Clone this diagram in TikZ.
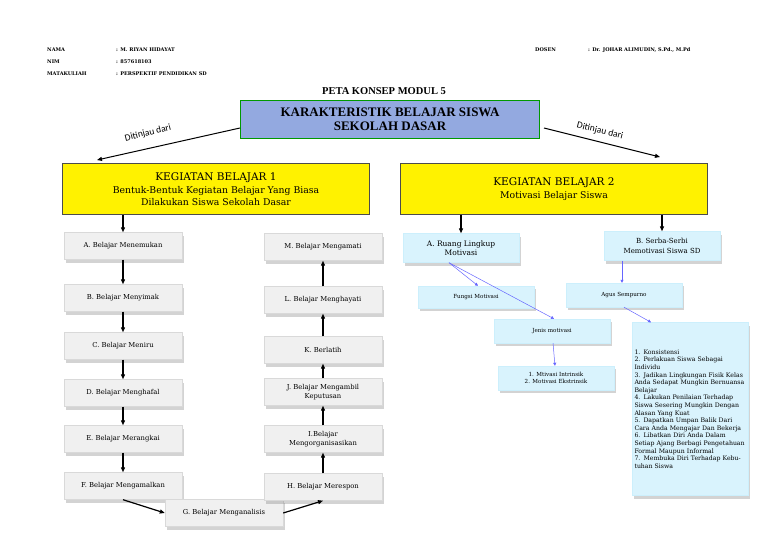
\documentclass[tikz,border=0pt]{standalone}
\usepackage{fontspec}
\setmainfont{DejaVu Serif}
\newfontfamily\calfnt{Carlito}
\newfontfamily\tfnt{Liberation Serif}
\usetikzlibrary{shadows,arrows.meta}
\definecolor{tblue}{HTML}{93A9E0}
\begin{document}
\begin{tikzpicture}[x=1pt,y=-1pt,
 hdr/.style={anchor=west,font=\fontsize{5}{6}\selectfont\bfseries,inner sep=0},
 gbox/.style={draw=gray!30,fill=gray!12,minimum width=118,minimum height=27,align=center,font=\fontsize{6.8}{8.5}\selectfont,drop shadow={opacity=0.35,shadow xshift=2pt,shadow yshift=-3pt}},
 cbox/.style={draw=cyan!20,fill=cyan!15,minimum width=116,align=center,font=\fontsize{5.6}{7}\selectfont,drop shadow={opacity=0.35,shadow xshift=2pt,shadow yshift=-3pt}},
 ybox/.style={draw=black!70,fill=yellow,minimum width=307,minimum height=51,align=center},
 blk/.style={-{Triangle[length=5pt,width=4pt]},line width=1.2pt},
 blu/.style={-{Triangle[length=3pt,width=3pt]},draw=blue!60,line width=0.5pt}]
\useasboundingbox (0,0) rectangle (768,543);
\node[hdr] (n1) at (47,50) {NAMA};
\node[hdr] (n2) at (116,50) {: M. RIYAN HIDAYAT};
\node[hdr] (n3) at (47,62) {NIM};
\node[hdr] (n4) at (116,62) {: 857618103};
\node[hdr] (n5) at (47,74) {MATAKULIAH};
\node[hdr] (n6) at (116,74) {: PERSPEKTIF PENDIDIKAN SD};
\node[hdr] (n7) at (535,50) {DOSEN};
\node[hdr] (n8) at (588,50) {: Dr. JOHAR ALIMUDIN, S.Pd., M.Pd};
\node[font=\tfnt\fontsize{10.5}{10}\selectfont\bfseries] (pk) at (384,91) {PETA KONSEP MODUL 5};
\node[draw=green!60!black,line width=1pt,fill=tblue,minimum width=299,minimum height=38,align=center,font=\tfnt\fontsize{13}{14}\selectfont\bfseries] (t) at (390,119) {KARAKTERISTIK BELAJAR SISWA\\SEKOLAH DASAR};
\node[ybox] (k1) at (216,189) {{\fontsize{10.5}{12}\selectfont KEGIATAN BELAJAR 1}\\[1pt]{\fontsize{9.3}{12.5}\selectfont Bentuk-Bentuk Kegiatan Belajar Yang Biasa}\\{\fontsize{9.3}{12.5}\selectfont Dilakukan Siswa Sekolah Dasar}};
\node[ybox] (k2) at (554,189) {{\fontsize{10.5}{12}\selectfont KEGIATAN BELAJAR 2}\\[1pt]{\fontsize{9.3}{12.5}\selectfont Motivasi Belajar Siswa}};
\coordinate (l1) at (97,160); \coordinate (r1) at (660,157);
\draw[blk,line width=1pt] (t.west |- 0,128) -- (l1);
\draw[blk,line width=1pt] (t.east |- 0,128) ++(4,0) -- (r1);
\node[font=\calfnt\fontsize{9.5}{9}\selectfont,rotate=14] (d1) at (148,133) {Ditinjau dari};
\node[font=\calfnt\fontsize{9.5}{9}\selectfont,rotate=-14] (d2) at (600,131) {Ditinjau dari};
% left column
\node[gbox] (A) at (123,246) {A. Belajar Menemukan};
\node[gbox] (B) at (123,298) {B. Belajar Menyimak};
\node[gbox] (C) at (123,346) {C. Belajar Meniru};
\node[gbox] (D) at (123,393) {D. Belajar Menghafal};
\node[gbox] (E) at (123,439) {E. Belajar Merangkai};
\node[gbox] (F) at (123,486) {F. Belajar Mengamalkan};
\node[gbox] (G) at (224,513) {G. Belajar Menganalisis};
\node[gbox] (H) at (323,487) {H. Belajar Merespon};
\node[gbox] (I) at (323,439) {I.Belajar\\Mengorganisasikan};
\node[gbox] (J) at (323,392) {J. Belajar Mengambil\\Keputusan};
\node[gbox] (K) at (323,350) {K. Berlatih};
\node[gbox] (L) at (323,300) {L. Belajar Menghayati};
\node[gbox] (M) at (323,247) {M. Belajar Mengamati};
\draw[blk] (k1.south -| A) -- (A);
\foreach \a/\b in {A/B,B/C,C/D,D/E,E/F,H/I,I/J,J/K,K/L,L/M} \draw[blk] (\a) -- (\b);
\draw[blk] (F.south) -- (G.west);
\draw[blk] (G.east) -- (H.south);
% right side
\node[cbox,minimum height=29,font=\fontsize{7.5}{9.5}\selectfont] (RL) at (461,248) {A. Ruang Lingkup\\Motivasi};
\node[cbox,minimum height=29,font=\fontsize{7}{9.5}\selectfont] (SS) at (662,246) {B. Serba-Serbi\\Memotivasi Siswa SD};
\node[cbox,minimum height=22] (FM) at (476,297) {Fungsi Motivasi};
\node[cbox,minimum height=24] (AS) at (624,295) {Agus Sempurno};
\node[cbox,minimum height=24] (JM) at (552,331) {Jenis motivasi};
\node[cbox,minimum height=24] (MI) at (556,378) {1. Mtivasi Intrinsik\\2. Motivasi Ekstrinsik};
\node[cbox,minimum height=173,text width=111,inner xsep=2pt,align=left,font=\fontsize{6.2}{7.6}\selectfont] (LS) at (690,409) {\hyphenpenalty=10000\relax 1. Konsistensi\\2. Perlakuan Siswa Sebagai Individu\\3. Jadikan Lingkungan Fisik Kelas Anda Sedapat Mungkin Bernuansa Belajar\\4. Lakukan Penilaian Terhadap Siswa Sesering Mungkin Dengan Alasan Yang Kuat\\5. Dapatkan Umpan Balik Dari Cara Anda Mengajar Dan Bekerja\\6. Libatkan Diri Anda Dalam Setiap Ajang Berbagi Pengetahuan Formal Maupun Informal\\7. Membuka Diri Terhadap Kebutuhan Siswa};
\draw[blk] (k2.south -| RL) -- (RL);
\draw[blk] (k2.south -| SS) -- (SS);
\draw[blu] (RL.south) ++(-12,0) coordinate (rs) -- ([xshift=2pt]FM.north);
\draw[blu] (rs) -- ([xshift=2pt]JM.north);
\draw[blu] (JM) -- (MI);
\draw[blu] ([xshift=-40pt]SS.south) -- ([xshift=-2pt]AS.north);
\draw[blu] (AS.south) -- ([xshift=-39pt]LS.north);
\end{tikzpicture}
\end{document}
